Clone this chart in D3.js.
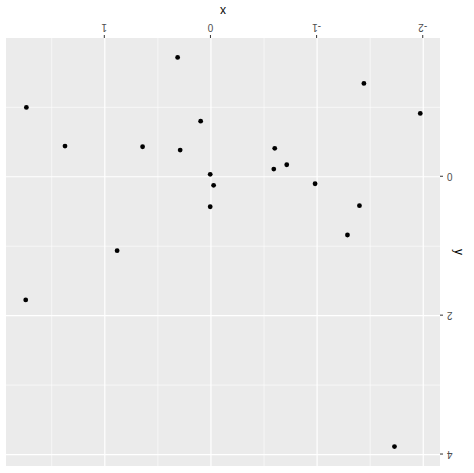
<!DOCTYPE html>
<html>
<head>
<meta charset="utf-8">
<script src="https://cdn.jsdelivr.net/npm/d3@7"></script>
<style>
	body { margin: 0; background: #fff; }
	text { font-family: "Liberation Sans", Arial, sans-serif; }
</style>
</head>
<body>
<div id="chart"></div>
<script>

var xs = [0.314, 1.739, 0.097, 1.375, 0.644, 0.290, 0.007, -0.025, 0.007, -1.441, -1.972, -0.601, -0.714, -0.592, -0.981, -1.399, -1.286, 0.884, 1.745, -1.729];
var ys = [-1.718, -0.999, -0.801, -0.442, -0.432, -0.384, -0.035, 0.124, 0.432, -1.344, -0.912, -0.409, -0.173, -0.111, 0.101, 0.417, 0.839, 1.065, 1.774, 3.885];
var xTicks = [-2, -1, 0, 1];
var yTicks = [0, 2, 4];

var W = 474, H = 473;
var m = { top: 7, right: 6, bottom: 38, left: 34 };

// ggplot style 5% expansion
function expand(v) {
	var e = d3.extent(v), d = (e[1] - e[0]) * 0.05;
	return [e[0] - d, e[1] + d];
}

var x = d3.scaleLinear().domain(expand(xs)).range([m.left, W - m.right]);
var y = d3.scaleLinear().domain(expand(ys)).range([H - m.bottom, m.top]);

var svg = d3.select('#chart').append('svg').attr('width', W).attr('height', H);

// whole plot is shown turned upside down
var g = svg.append('g').attr('transform', 'rotate(180,' + (W / 2) + ',' + (H / 2) + ')');

g.append('rect')
	.attr('x', m.left).attr('y', m.top)
	.attr('width', W - m.left - m.right).attr('height', H - m.top - m.bottom)
	.style('fill', '#EBEBEB');

var xMinor = d3.range(-2.5, 2, 1).filter(function(v) { return v > x.domain()[0] && v < x.domain()[1]; });
var yMinor = d3.range(-1, 5, 2).filter(function(v) { return v > y.domain()[0] && v < y.domain()[1]; });

var grid = g.append('g');

grid.selectAll('.xminor').data(xMinor).enter().append('line')
	.attr('x1', x).attr('x2', x).attr('y1', m.top).attr('y2', H - m.bottom)
	.style('stroke', '#fff').style('stroke-width', 0.6);

grid.selectAll('.yminor').data(yMinor).enter().append('line')
	.attr('y1', y).attr('y2', y).attr('x1', m.left).attr('x2', W - m.right)
	.style('stroke', '#fff').style('stroke-width', 0.6);

grid.selectAll('.xmajor').data(xTicks).enter().append('line')
	.attr('x1', x).attr('x2', x).attr('y1', m.top).attr('y2', H - m.bottom)
	.style('stroke', '#fff').style('stroke-width', 1.2);

grid.selectAll('.ymajor').data(yTicks).enter().append('line')
	.attr('y1', y).attr('y2', y).attr('x1', m.left).attr('x2', W - m.right)
	.style('stroke', '#fff').style('stroke-width', 1.2);

g.selectAll('circle').data(xs).enter().append('circle')
	.attr('cx', function(d) { return x(d); })
	.attr('cy', function(d, i) { return y(ys[i]); })
	.attr('r', 2.4)
	.style('fill', '#000');

var fmt = function(d) { return String(d); };

var xAxis = g.append('g')
	.attr('transform', 'translate(0,' + (H - m.bottom) + ')')
	.call(d3.axisBottom(x).tickValues(xTicks).tickSize(3).tickPadding(4).tickFormat(fmt));

var yAxis = g.append('g')
	.attr('transform', 'translate(' + m.left + ',0)')
	.call(d3.axisLeft(y).tickValues(yTicks).tickSize(3).tickPadding(4).tickFormat(fmt));

[xAxis, yAxis].forEach(function(a) {
	a.select('.domain').remove();
	a.selectAll('.tick line').style('stroke', '#333').style('stroke-width', 1);
	a.selectAll('.tick text').style('fill', '#4D4D4D').style('font-size', '10px')
		.style('font-family', '"Liberation Sans", Arial, sans-serif');
});

g.append('text')
	.attr('x', (m.left + W - m.right) / 2)
	.attr('y', H - 7)
	.attr('text-anchor', 'middle')
	.style('font-size', '12px')
	.style('fill', '#000')
	.text('x');

g.append('text')
	.attr('transform', 'translate(' + 19 + ',' + ((m.top + H - m.bottom) / 2) + ') rotate(-90)')
	.attr('text-anchor', 'middle')
	.style('font-size', '12px')
	.style('fill', '#000')
	.text('y');

</script>
</body>
</html>
